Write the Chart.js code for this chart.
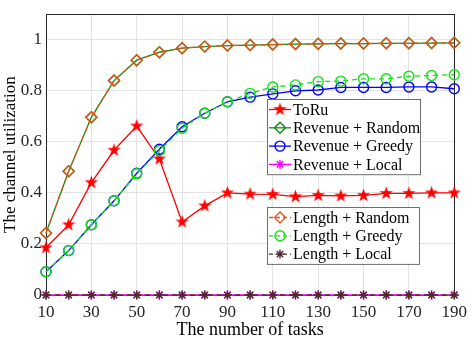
<!DOCTYPE html>
<html>
<head>
<meta charset="utf-8">
<script src="https://cdn.jsdelivr.net/npm/chart.js@4/dist/chart.umd.min.js"></script>
<style>
  html, body { margin: 0; padding: 0; background: #fff; }
  #wrap { width: 474px; height: 339px; }
</style>
</head>
<body>
<div id="wrap"><canvas id="chart" width="474" height="339"></canvas></div>
<script>
// data
const tasks = [10, 20, 30, 40, 50, 60, 70, 80, 90, 100, 110, 120, 130, 140, 150, 160, 170, 180, 190];
const toru = [0.185, 0.275, 0.44, 0.567, 0.662, 0.533, 0.286, 0.349, 0.40, 0.395, 0.394, 0.385, 0.39, 0.388, 0.39, 0.398, 0.398, 0.40, 0.40];
const revenueRandom = [0.243, 0.485, 0.696, 0.84, 0.92, 0.951, 0.967, 0.973, 0.977, 0.979, 0.981, 0.983, 0.984, 0.985, 0.985, 0.986, 0.986, 0.987, 0.988];
const revenueGreedy = [0.091, 0.174, 0.275, 0.369, 0.477, 0.571, 0.659, 0.712, 0.757, 0.775, 0.788, 0.80, 0.803, 0.813, 0.813, 0.813, 0.815, 0.815, 0.808];
const revenueLocal = [0, 0, 0, 0, 0, 0, 0, 0, 0, 0, 0, 0, 0, 0, 0, 0, 0, 0, 0];
const lengthRandom = [0.243, 0.485, 0.696, 0.84, 0.92, 0.951, 0.967, 0.973, 0.977, 0.979, 0.981, 0.983, 0.984, 0.985, 0.985, 0.986, 0.986, 0.987, 0.988];
const lengthGreedy = [0.091, 0.174, 0.275, 0.369, 0.475, 0.565, 0.653, 0.712, 0.757, 0.79, 0.815, 0.823, 0.836, 0.838, 0.847, 0.847, 0.857, 0.86, 0.863];
const lengthLocal = [0, 0, 0, 0, 0, 0, 0, 0, 0, 0, 0, 0, 0, 0, 0, 0, 0, 0, 0];
const xTicks = [10, 30, 50, 70, 90, 110, 130, 150, 170, 190];
const yTicks = [0, 0.2, 0.4, 0.6, 0.8, 1];

const FONT = '"Liberation Serif", "Times New Roman", serif';

// five-pointed star marker (chart.js 'star' is an asterisk)
function makeStar(color) {
    const c = document.createElement('canvas');
    c.width = 15; c.height = 15;
    const g = c.getContext('2d');
    g.beginPath();
    for (let i = 0; i < 10; i++) {
        const r = i % 2 === 0 ? 7 : 2.8;
        const a = -Math.PI / 2 + i * Math.PI / 5;
        const px = 7.5 + r * Math.cos(a), py = 7.5 + r * Math.sin(a);
        if (i === 0) g.moveTo(px, py); else g.lineTo(px, py);
    }
    g.closePath();
    g.fillStyle = color;
    g.fill();
    return c;
}
const starImg = makeStar('#ff0000');

function series(label, values, color, style, radius, dash, pointFill) {
    return {
        label: label,
        data: values.map((v, i) => ({ x: tasks[i], y: v })),
        borderColor: color,
        backgroundColor: pointFill || 'rgba(0,0,0,0)',
        pointBorderColor: color,
        pointBackgroundColor: pointFill || 'rgba(0,0,0,0)',
        pointStyle: style,
        pointRadius: radius,
        pointBorderWidth: 1.4,
        borderWidth: 1.3,
        borderDash: dash || [],
        tension: 0,
        clip: false
    };
}

const datasets = [
    series('ToRu', toru, '#ff0000', starImg, 6),
    series('Revenue + Random', revenueRandom, '#138a13', 'rectRot', 5.5),
    series('Revenue + Greedy', revenueGreedy, '#0000ff', 'circle', 5),
    series('Revenue + Local', revenueLocal, '#ff00ff', 'star', 4.5),
    series('Length + Random', lengthRandom, '#e0561b', 'rectRot', 5.5, [5, 4]),
    series('Length + Greedy', lengthGreedy, '#14e014', 'circle', 5, [5, 4]),
    series('Length + Local', lengthLocal, '#4d2b2b', 'star', 4.5, [5, 4])
];
// later series on top, like the original
datasets.forEach((d, i) => { d.order = datasets.length - i; });

// box around the axes
const framePlugin = {
    id: 'frame',
    beforeDatasetsDraw(chart) {
        const a = chart.chartArea, ctx = chart.ctx;
        ctx.save();
        ctx.strokeStyle = '#262626';
        ctx.lineWidth = 1;
        ctx.strokeRect(Math.round(a.left) + 0.5, Math.round(a.top) + 0.5,
            Math.round(a.right - a.left), Math.round(a.bottom - a.top));
        ctx.restore();
    }
};

// two legend boxes inside the plot
const legendBoxes = [
    { left: 267, top: 99, width: 153, items: [0, 1, 2, 3] },
    { left: 267, top: 207, width: 152, items: [4, 5, 6] }
];
const legendPlugin = {
    id: 'twoLegends',
    afterDraw(chart) {
        const ctx = chart.ctx;
        const rowH = 18.3;
        ctx.save();
        legendBoxes.forEach(box => {
            const h = box.items.length * rowH + 2;
            ctx.fillStyle = '#fff';
            ctx.fillRect(box.left, box.top, box.width, h);
            ctx.strokeStyle = '#6e6e6e';
            ctx.lineWidth = 1;
            ctx.strokeRect(box.left + 0.5, box.top + 0.5, box.width, h);
            box.items.forEach((idx, k) => {
                const ds = chart.data.datasets[idx];
                const y = box.top + 10.5 + k * rowH;
                ctx.strokeStyle = ds.borderColor;
                ctx.lineWidth = ds.borderWidth;
                ctx.setLineDash(ds.borderDash.length ? [4, 3] : []);
                ctx.beginPath();
                ctx.moveTo(box.left + 2, y);
                ctx.lineTo(box.left + 24, y);
                ctx.stroke();
                ctx.setLineDash([]);
                ctx.strokeStyle = ds.pointBorderColor;
                ctx.fillStyle = ds.pointBackgroundColor;
                ctx.lineWidth = ds.pointBorderWidth;
                Chart.helpers.drawPoint(ctx, {
                    pointStyle: ds.pointStyle,
                    radius: ds.pointRadius,
                    rotation: 0,
                    borderWidth: ds.pointBorderWidth
                }, box.left + 13, y);
                ctx.fillStyle = '#000';
                ctx.font = '16px ' + FONT;
                ctx.textBaseline = 'middle';
                ctx.fillText(ds.label, box.left + 26, y + 1);
            });
        });
        ctx.restore();
    }
};

new Chart(document.getElementById('chart').getContext('2d'), {
    type: 'line',
    data: { datasets: datasets },
    options: {
        responsive: false,
        animation: false,
        layout: { padding: { top: 5, right: 16, left: 0, bottom: 0 } },
        plugins: { legend: { display: false }, tooltip: { enabled: false } },
        scales: {
            x: {
                type: 'linear',
                min: 10,
                max: 190,
                afterBuildTicks: s => { s.ticks = xTicks.map(v => ({ value: v })); },
                afterFit: s => { s.height = 44; },
                grid: { color: '#e3e3e3', drawTicks: false },
                border: { display: false },
                ticks: { color: '#262626', font: { family: FONT, size: 17 }, padding: 7, maxRotation: 0 },
                title: { display: true, text: 'The number of tasks', color: '#000', font: { family: FONT, size: 18, lineHeight: 1 }, padding: { top: 0, bottom: 0 } }
            },
            y: {
                min: 0,
                max: 1.1,
                afterBuildTicks: s => { s.ticks = yTicks.map(v => ({ value: v })); },
                afterFit: s => { s.width = 46; },
                grid: { color: '#e3e3e3', drawTicks: false },
                border: { display: false },
                ticks: { color: '#262626', font: { family: FONT, size: 17 }, padding: 4, callback: v => String(Math.round(v * 10) / 10) },
                title: { display: true, text: 'The channel utilization', color: '#000', font: { family: FONT, size: 17 }, padding: { top: 0, bottom: 0 } }
            }
        }
    },
    plugins: [framePlugin, legendPlugin]
});
</script>
</body>
</html>
